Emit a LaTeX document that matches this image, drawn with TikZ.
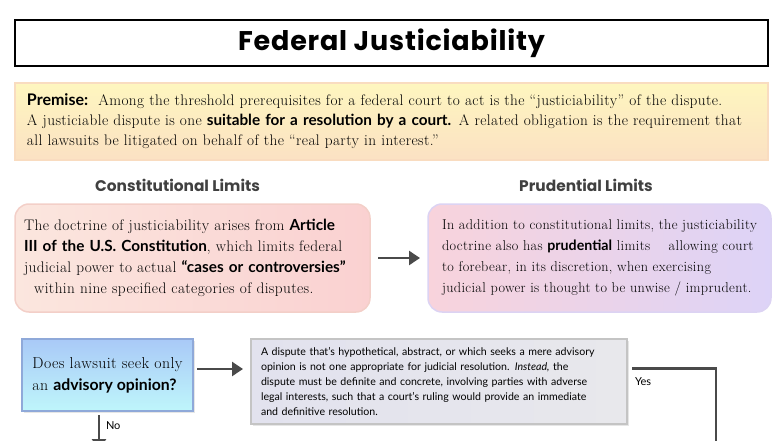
\documentclass[tikz,border=0pt]{standalone}
\usepackage{fontspec}
\setmainfont{Latin Modern Roman}[LetterSpace=2.5]
\setsansfont{Lato}
\newfontfamily\popp{Poppins}
\usepackage{tikz}
\usetikzlibrary{positioning, arrows.meta, shadows}

\definecolor{linegray}{HTML}{4A4A4A}
\definecolor{headgray}{HTML}{404040}
\definecolor{premline}{HTML}{F9DCC0}
\definecolor{premtop}{HTML}{FEF6BF}
\definecolor{prembot}{HTML}{FBE1C3}
\definecolor{constline}{HTML}{F3CFC8}
\definecolor{constleft}{HTML}{FBE6DE}
\definecolor{constright}{HTML}{FAD1D1}
\definecolor{prudline}{HTML}{DCD3F3}
\definecolor{prudleft}{HTML}{F8D3DC}
\definecolor{prudright}{HTML}{DDD3F7}
\definecolor{advline}{HTML}{8FA9D9}
\definecolor{advtop}{HTML}{A9C9F7}
\definecolor{advbot}{HTML}{BFF6FB}
\definecolor{displine}{HTML}{C4C4C4}
\definecolor{displeft}{HTML}{E2E2EE}
\definecolor{dispright}{HTML}{E8E8EC}
\newcommand{\sfb}[1]{{\sffamily\bfseries #1}}

\begin{document}
\begin{tikzpicture}[x=1pt, y=1pt]
    \tikzstyle{every node}=[inner sep=0pt, outer sep=0pt]
    \tikzstyle{head}=[font=\popp\bfseries\fontsize{15.4}{17}\selectfont, text=headgray]
    \tikzstyle{limit}=[rounded corners=14pt, line width=1.5pt, minimum width=355pt, minimum height=108pt, align=left]
    \tikzstyle{arr}=[line width=2.5pt, draw=linegray, -{Triangle[length=11pt, width=14pt]}]
    \tikzset{node distance=17pt}
    \useasboundingbox (0,0) rectangle (784,-441);

    \node[draw, line width=2.5pt, minimum width=753pt, minimum height=46pt, font=\popp\bfseries\fontsize{27}{30}\selectfont\addfontfeatures{LetterSpace=3}] (title) at (391.5,-43) {Federal Justiciability};
    \node[below=of title, draw=premline, line width=1.5pt, top color=premtop, bottom color=prembot, minimum width=753pt, minimum height=77pt, text width=729pt, align=left, font=\fontsize{15.3}{20}\selectfont] (premise) {\sfb{\fontsize{16}{20}\selectfont Premise:}\ \ Among the threshold prerequisites for a federal court to act is the “justiciability” of the dispute.\\
    A justiciable dispute is one \sfb{suitable for a resolution by a court.} A related obligation is the requirement that\\
    all lawsuits be litigated on behalf of the “real party in interest.”};

    \node[head] (h1) at (177.5,-185) {Constitutional Limits};
    \node[head] (h2) at (586,-185) {Prudential Limits};

    \node[limit, draw=constline, left color=constleft, right color=constright, text width=337pt, font=\fontsize{15.3}{21}\selectfont] (const) at (192.5,-258) {The doctrine of justiciability arises from \sfb{Article}\\
    \sfb{III of the U.S. Constitution}, which limits federal\\
    judicial power to actual \sfb{“cases or controversies”}\\
    \ \ within nine specified categories of disputes.};
    \node[limit, draw=prudline, left color=prudleft, right color=prudright, minimum width=343pt, font=\fontsize{14.2}{21}\selectfont, right=58pt of const] (prud) {In addition to constitutional limits, the justiciability\\
    doctrine also has \sfb{prudential} limits\hspace{1.3em}allowing court\\
    to forebear, in its discretion, when exercising\\
    judicial power is thought to be unwise / imprudent.};
    \draw[arr, shorten <=8pt, shorten >=8pt] (const) -- (prud);

    \node[draw=advline, line width=2.5pt, top color=advtop, bottom color=advbot, minimum width=171pt, minimum height=72pt, align=left, font=\fontsize{15.8}{22}\selectfont, drop shadow={opacity=0.2, shadow xshift=2pt, shadow yshift=-2pt}] (adv) at (107.5,-375) {Does lawsuit seek only\\ an \sfb{advisory opinion?}};
    \node[draw=displine, line width=2.5pt, left color=displeft, right color=dispright, minimum width=376pt, minimum height=85pt, text width=356pt, align=left, font=\sffamily\fontsize{10.6}{15}\selectfont, drop shadow={opacity=0.2, shadow xshift=2pt, shadow yshift=-2pt}] (disp) at (439,-381.5) {A dispute that’s hypothetical, abstract, or which seeks a mere advisory\\
    opinion is not one appropriate for judicial resolution. \emph{Instead,} the\\
    dispute must be definite and concrete, involving parties with adverse\\
    legal interests, such that a court’s ruling would provide an immediate\\
    and definitive resolution.};
    \draw[arr, shorten <=4pt, shorten >=8pt] ([yshift=6pt]adv.east) -- ([yshift=6pt]adv.east -| disp.west);

    \coordinate (yesend) at (716,-460);
    \coordinate (noend) at (99,-450);
    \draw[line width=2.5pt, draw=linegray] ([xshift=5pt, yshift=13pt]disp.east) -| (yesend);
    \node[font=\sffamily\fontsize{11}{12}\selectfont, anchor=west] (yes) at (635,-382) {Yes};
    \draw[arr, shorten <=4pt] (adv.south -| noend) -- (noend);
    \node[font=\sffamily\fontsize{11}{12}\selectfont, anchor=west] (no) at (106,-426) {No};
\end{tikzpicture}
\end{document}
